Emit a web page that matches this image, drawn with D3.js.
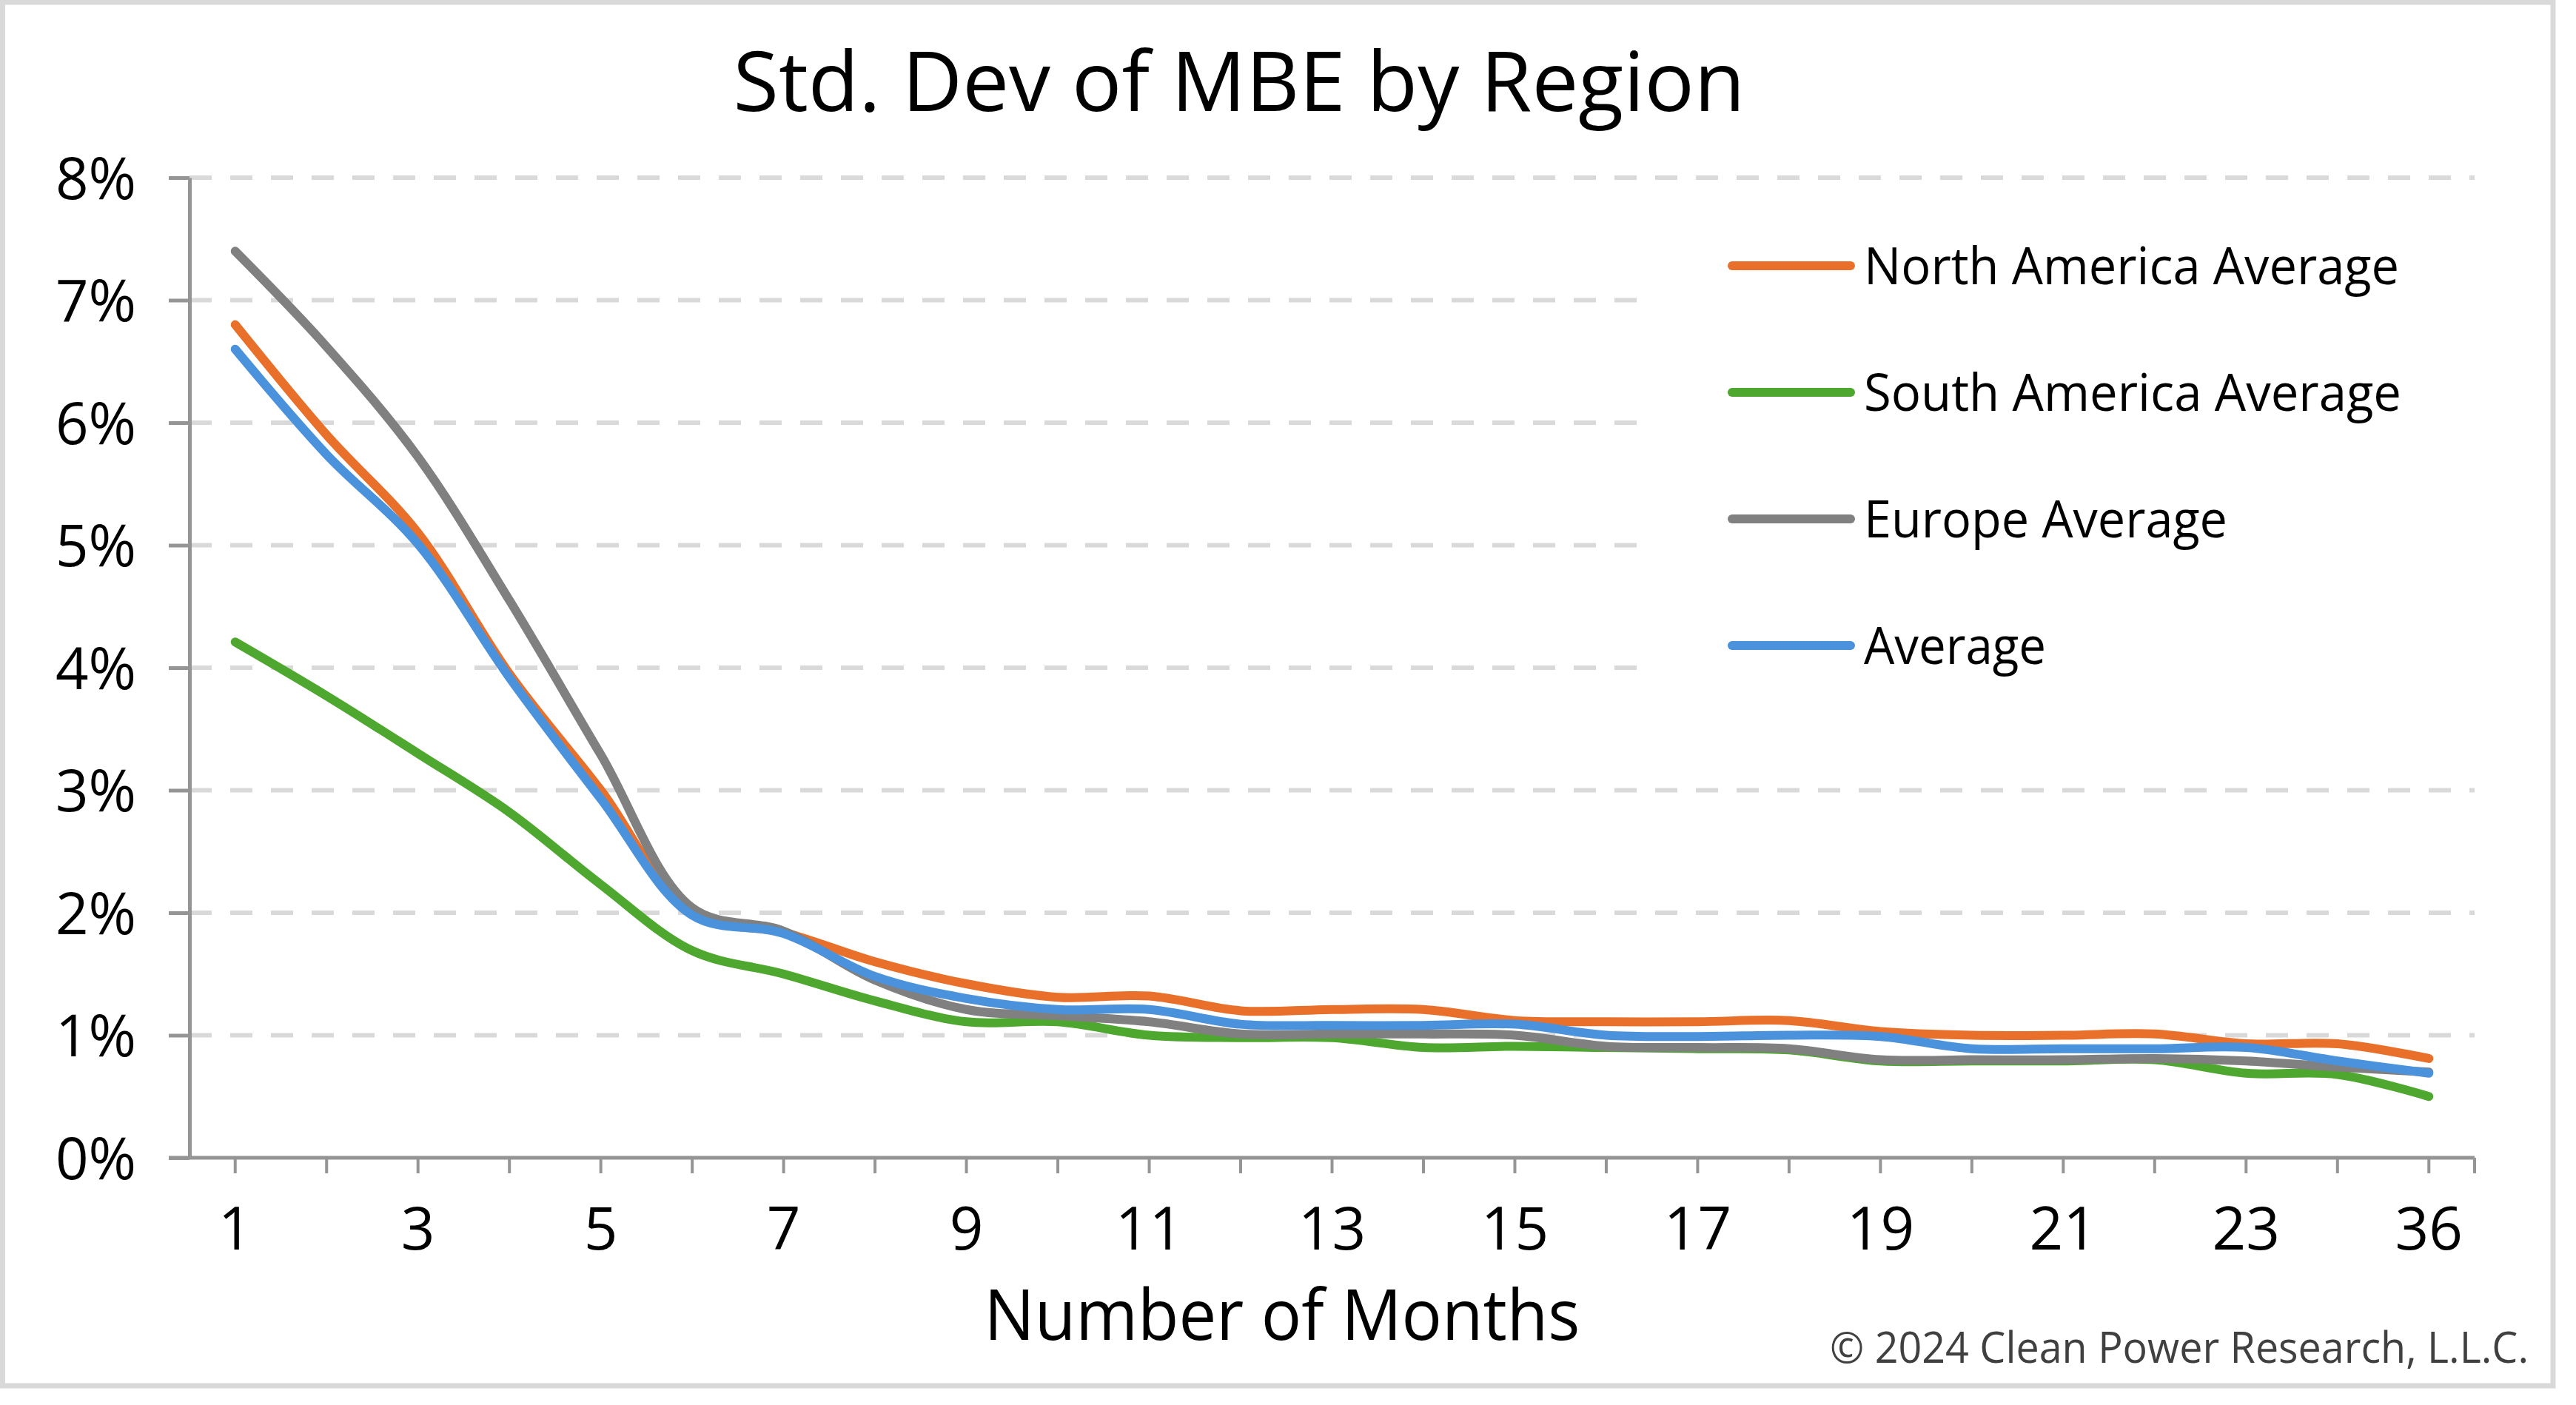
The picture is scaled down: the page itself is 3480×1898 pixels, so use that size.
<!DOCTYPE html>
<html><head><meta charset="utf-8">
<script src="https://cdn.jsdelivr.net/npm/d3@7"></script>
<style>
html,body{margin:0;padding:0;background:#fff;}
svg{display:block;font-family:"Open Sans",sans-serif;}
</style>
</head><body>
<svg id="c" width="3480" height="1898"></svg>
<script>
// ---------- data ----------
const months = ["1","2","3","4","5","6","7","8","9","10","11","12","13","14","15","16","17","18","19","20","21","22","23","24","36"];
const yTickValues = [0,1,2,3,4,5,6,7,8]; // percent
const seriesNames = ["North America Average","South America Average","Europe Average","Average"];
const seriesColors = ["#E8702A","#4EA72E","#808080","#4A92DB"];
const northAmerica = [6.80,5.90,5.10,3.95,3.00,1.99,1.84,1.60,1.42,1.31,1.32,1.20,1.21,1.21,1.12,1.11,1.11,1.12,1.03,1.00,1.00,1.01,0.93,0.93,0.81];
const southAmerica = [4.21,3.77,3.30,2.82,2.23,1.69,1.50,1.28,1.11,1.11,1.00,0.98,0.98,0.90,0.91,0.90,0.89,0.88,0.79,0.79,0.79,0.80,0.69,0.68,0.50];
const europe       = [7.40,6.62,5.72,4.55,3.29,2.04,1.85,1.45,1.21,1.16,1.11,1.01,1.01,1.01,1.00,0.91,0.90,0.89,0.80,0.80,0.80,0.81,0.79,0.74,0.70];
const average      = [6.60,5.74,5.01,3.92,2.93,1.98,1.83,1.48,1.30,1.21,1.21,1.09,1.08,1.08,1.09,1.00,0.99,1.00,0.99,0.89,0.89,0.89,0.90,0.79,0.69];
const chartTitle = "Std. Dev of MBE by Region";
const xTitle = "Number of Months";
const copyright = "\u00A9 2024 Clean Power Research, L.L.C.";

const seriesValues = [northAmerica, southAmerica, europe, average];

// ---------- layout ----------
const svg = d3.select("#c");
const plot = {left: 256, right: 3343, top: 240, bottom: 1564};
const axisColor = "#959595";

function fit(sel, w){
  sel.each(function(){
    const L = this.getComputedTextLength();
    if (Math.abs(L - w) / w > 0.01) {
      d3.select(this).attr("textLength", w).attr("lengthAdjust", "spacingAndGlyphs");
    }
  });
}

// frame
svg.append("rect").attr("x",0).attr("y",0).attr("width",3480).attr("height",1898).attr("fill","#fff");
svg.append("rect").attr("x",3.5).attr("y",3).attr("width",3445.5).attr("height",1869)
  .attr("fill","#fff").attr("stroke","#d9d9d9").attr("stroke-width",7);

const x = d3.scaleBand().domain(months).range([plot.left, plot.right]).padding(0);
const xc = m => x(m) + x.bandwidth()/2;
const y = d3.scaleLinear().domain([0, 8]).range([plot.bottom, plot.top]);

// gridlines
svg.append("g").selectAll("line").data(yTickValues.filter(v => v > 0)).join("line")
  .attr("x1", plot.left).attr("x2", plot.right)
  .attr("y1", d => y(d)).attr("y2", d => y(d))
  .attr("stroke", "#d9d9d9").attr("stroke-width", 6).attr("stroke-dasharray", "30 25");

// legend background (hides gridlines)
const legendBox = {x: 2212, y: 262, w: plot.right - 2212 + 10, h: 738};
svg.append("rect").attr("x", legendBox.x).attr("y", legendBox.y)
  .attr("width", legendBox.w).attr("height", legendBox.h).attr("fill", "#fff");

// y axis
const yAxis = d3.axisLeft(y).tickValues(yTickValues).tickSize(28).tickSizeOuter(0)
  .tickPadding(0).tickFormat(d => d + "%");
const gy = svg.append("g").attr("transform", `translate(${plot.left},0)`).call(yAxis);
gy.select(".domain").attr("stroke", axisColor).attr("stroke-width", 5);
gy.selectAll(".tick line").attr("stroke", axisColor).attr("stroke-width", 5);
gy.selectAll(".tick text").attr("x", -72).attr("dy", "0.36em")
  .attr("font-size", 78).attr("fill", "#000").attr("font-family", '"Open Sans",sans-serif');

// x axis
const xAxis = d3.axisBottom(x).tickSize(21).tickSizeOuter(0).tickPadding(0)
  .tickFormat((d, i) => i % 2 === 0 ? d : "");
const gx = svg.append("g").attr("transform", `translate(0,${plot.bottom})`).call(xAxis);
gx.select(".domain").attr("stroke", axisColor).attr("stroke-width", 5).attr("d", `M${plot.left - 28},0H${plot.right}`);
gx.selectAll(".tick line").attr("stroke", axisColor).attr("stroke-width", 4);
gx.append("line").attr("x1", plot.right).attr("x2", plot.right).attr("y1", 0).attr("y2", 21)
  .attr("stroke", axisColor).attr("stroke-width", 4);
gx.selectAll(".tick text").attr("y", 124).attr("dy", 0)
  .attr("font-size", 80).attr("fill", "#000").attr("font-family", '"Open Sans",sans-serif');

// lines
const line = d3.line().x((d, i) => xc(months[i])).y(d => y(d)).curve(d3.curveCatmullRom.alpha(0.5));
svg.append("g").selectAll("path").data(seriesValues).join("path")
  .attr("d", d => line(d)).attr("fill", "none")
  .attr("stroke", (d, i) => seriesColors[i]).attr("stroke-width", 12)
  .attr("stroke-linecap", "round").attr("stroke-linejoin", "round");

// legend
const legendRow0 = 359, legendStep = 171;
const lg = svg.append("g").selectAll("g").data(seriesNames).join("g")
  .attr("transform", (d, i) => `translate(0,${legendRow0 + i * legendStep})`);
lg.append("line").attr("x1", 2340).attr("x2", 2500).attr("y1", 0).attr("y2", 0)
  .attr("stroke", (d, i) => seriesColors[i]).attr("stroke-width", 12).attr("stroke-linecap", "round");
const legendWidths = [723, 726, 491, 246];
lg.append("text").attr("x", 2518).attr("y", 25).attr("font-size", 70).attr("fill", "#000").text(d => d)
  .each(function(d, i){ fit(d3.select(this), legendWidths[i]); });

// titles
const t = svg.append("text").attr("x", 1674).attr("y", 150).attr("text-anchor", "middle")
  .attr("font-size", 112).attr("fill", "#000").text(chartTitle);
fit(t, 1362);
const xt = svg.append("text").attr("x", 1732).attr("y", 1810).attr("text-anchor", "middle")
  .attr("font-size", 95).attr("fill", "#000").text(xTitle);
fit(xt, 805);
const cr = svg.append("text").attr("x", 3416).attr("y", 1841).attr("text-anchor", "end")
  .attr("font-size", 59).attr("fill", "#404040").text(copyright);
fit(cr, 944);
</script>
</body></html>
